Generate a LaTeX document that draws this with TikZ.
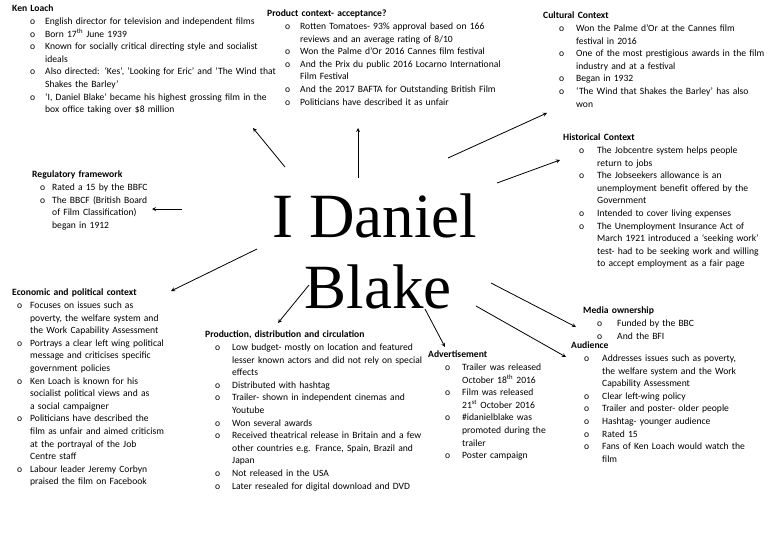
\documentclass[tikz,border=0pt]{standalone}
\usepackage{fontspec}
\setmainfont{Carlito}
\newfontfamily\titlefont{Liberation Serif}
\newlength\bulpre \newlength\bulind
\newcommand\bi[1]{\par\noindent\hangindent=\bulind\hangafter=1 \hbox to \bulind{\hskip\bulpre o\hfil}#1\par}
\newcommand\hd[1]{\noindent\textbf{#1}}
\tikzset{blk/.style={anchor=north west,inner sep=0pt,align=left,font=\fontsize{9.6}{12.6}\selectfont},
arr/.style={-stealth,thick}}
\begin{document}
\hyphenpenalty=10000 \exhyphenpenalty=10000
\begin{tikzpicture}[x=1pt,y=-1pt]
\useasboundingbox[fill=white] (0,0) rectangle (768,543);
\node[blk,text width=265] (ken) at (12,5) {\setlength\bulpre{18pt}\setlength\bulind{33pt}\hd{Ken Loach}
\bi{English director for television and independent films}
\bi{Born 17\textsuperscript{th} June 1939}
\bi{Known for socially critical directing style and socialist ideals}
\bi{Also directed: ‘Kes’, ‘Looking for Eric’ and ‘The Wind that Shakes the Barley’}
\bi{‘I, Daniel Blake’ became his highest grossing film in the box office taking over \$8 million}};
\node[blk,text width=245] (prod) at (267,10) {\setlength\bulpre{18pt}\setlength\bulind{33pt}\hd{Product context- acceptance?}
\bi{Rotten Tomatoes- 93\% approval based on 166 reviews and an average rating of 8/10}
\bi{Won the Palme d’Or 2016 Cannes film festival}
\bi{And the Prix du public 2016 Locarno International Film Festival}
\bi{And the 2017 BAFTA for Outstanding British Film}
\bi{Politicians have described it as unfair}};
\node[blk,text width=222] (cult) at (543,12) {\setlength\bulpre{16pt}\setlength\bulind{33pt}\hd{Cultural Context}
\bi{Won the Palme d’Or at the Cannes film festival in 2016}
\bi{One of the most prestigious awards in the film industry and at a festival}
\bi{Began in 1932}
\bi{‘The Wind that Shakes the Barley’ has also won}};
\node[blk,text width=200] (hist) at (563,134) {\setlength\bulpre{16pt}\setlength\bulind{34pt}\hd{Historical Context}
\bi{The Jobcentre system helps people return to jobs}
\bi{The Jobseekers allowance is an unemployment benefit offered by the Government}
\bi{Intended to cover living expenses}
\bi{The Unemployment Insurance Act of March 1921 introduced a ‘seeking work’ test- had to be seeking work and willing to accept employment as a fair page}};
\node[blk,text width=122] (reg) at (32,171) {\setlength\bulpre{8pt}\setlength\bulind{20pt}\hd{Regulatory framework}
\bi{Rated a 15 by the BBFC}
\bi{The BBCF (British Board of Film Classification) began in 1912}};
\node[blk,text width=152] (econ) at (12,289) {\setlength\bulpre{5pt}\setlength\bulind{18pt}\hd{Economic and political context}
\bi{Focuses on issues such as poverty, the welfare system and the Work Capability Assessment}
\bi{Portrays a clear left wing political message and criticises specific government policies}
\bi{Ken Loach is known for his socialist political views and as a social campaigner}
\bi{Politicians have described the film as unfair and aimed criticism at the portrayal of the Job Centre staff}
\bi{Labour leader Jeremy Corbyn praised the film on Facebook}};
\node[blk,text width=220] (pdc) at (205,331) {\setlength\bulpre{10pt}\setlength\bulind{27pt}\hd{Production, distribution and circulation}
\bi{Low budget- mostly on location and featured lesser known actors and did not rely on special effects}
\bi{Distributed with hashtag}
\bi{Trailer- shown in independent cinemas and Youtube}
\bi{Won several awards}
\bi{Received theatrical release in Britain and a few other countries e.g. France, Spain, Brazil and Japan}
\bi{Not released in the USA}
\bi{Later resealed for digital download and DVD}};
\node[blk,text width=120] (adv) at (428,351) {\setlength\bulpre{17pt}\setlength\bulind{34pt}\hd{Advertisement}
\bi{Trailer was released October 18\textsuperscript{th} 2016}
\bi{Film was released 21\textsuperscript{st} October 2016}
\bi{\#idanielblake was promoted during the trailer}
\bi{Poster campaign}};
\node[blk,text width=150] (media) at (583,307) {\setlength\bulpre{14pt}\setlength\bulind{34pt}\hd{Media ownership}
\bi{Funded by the BBC}
\bi{And the BFI}};
\node[blk,text width=190] (aud) at (571,342) {\setlength\bulpre{13pt}\setlength\bulind{31pt}\hd{Audience}
\bi{Addresses issues such as poverty, the welfare system and the Work Capability Assessment}
\bi{Clear left-wing policy}
\bi{Trailer and poster- older people}
\bi{Hashtag- younger audience}
\bi{Rated 15}
\bi{Fans of Ken Loach would watch the film}};
\node[inner sep=0pt,anchor=base,font=\titlefont\fontsize{63}{70}\selectfont] (t1) at (375,237) {I Daniel};
\node[inner sep=0pt,anchor=base,font=\titlefont\fontsize{63}{70}\selectfont] (t2) at (378,308) {Blake};
\coordinate (a1) at (285,167); \coordinate (b1) at (253,128);
\coordinate (a2) at (358,178); \coordinate (b2) at (358,128);
\coordinate (a3) at (448,158); \coordinate (b3) at (547,113);
\coordinate (a4) at (497,183); \coordinate (b4) at (560,160);
\coordinate (a5) at (182,209); \coordinate (b5) at (152,209);
\coordinate (a6) at (257,249); \coordinate (b6) at (171,291);
\coordinate (a7) at (309,285); \coordinate (b7) at (278,323);
\coordinate (a8) at (425,309); \coordinate (b8) at (445,347);
\coordinate (a9) at (491,283); \coordinate (b9) at (576,327);
\coordinate (a10) at (476,306); \coordinate (b10) at (566,357);
\foreach \i in {1,...,10} \draw[arr] (a\i) -- (b\i);
\end{tikzpicture}
\end{document}
